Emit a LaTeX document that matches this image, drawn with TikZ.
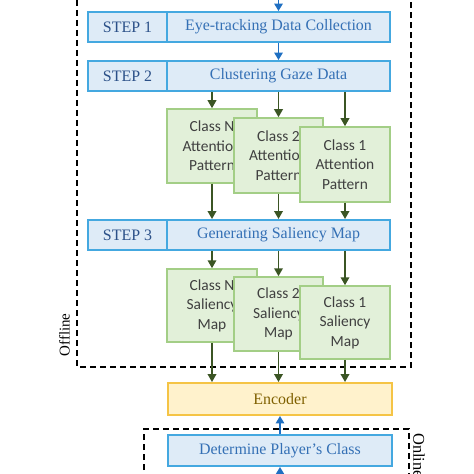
\documentclass[tikz,border=0pt]{standalone}
\usepackage{fontspec}
\setmainfont{Liberation Serif}
\newfontfamily\calib{Carlito}
\usetikzlibrary{arrows.meta}
\definecolor{bbord}{HTML}{44A8E0}
\definecolor{bfill}{HTML}{DEEBF7}
\definecolor{bstep}{HTML}{2B5088}
\definecolor{btext}{HTML}{3470B5}
\definecolor{barr}{HTML}{1F6FC2}
\definecolor{gbord}{HTML}{A3CE86}
\definecolor{gfill}{HTML}{E2F0D9}
\definecolor{gtext}{HTML}{404040}
\definecolor{garr}{HTML}{3B5524}
\definecolor{ybord}{HTML}{F5C445}
\definecolor{yfill}{HTML}{FFF2CC}
\definecolor{ytext}{HTML}{7F6000}
\tikzset{
  bluebox/.style={draw=bbord, fill=bfill, line width=1.9bp, inner sep=0pt, minimum height=30bp,
    font=\fontsize{16}{19}\selectfont, text=btext},
  steplabel/.style={bluebox, minimum width=79bp, text=bstep},
  steptext/.style={bluebox, minimum width=223bp},
  greenbox/.style={draw=gbord, fill=gfill, line width=1.5bp, inner sep=0pt, minimum width=90bp,
    minimum height=74bp, font=\calib\fontsize{15.5}{19.5}\selectfont, text=gtext, align=center},
  encbox/.style={draw=ybord, fill=yfill, line width=1.9bp, inner sep=0pt, minimum width=224bp,
    minimum height=32bp, font=\fontsize{16}{19}\selectfont, text=ytext},
  garrow/.style={draw=garr, line width=1.8bp, -{Triangle[length=8bp,width=8.5bp]}},
  barrow/.style={draw=barr, line width=1.6bp, -{Triangle[length=7.5bp,width=8.5bp]}},
  dashbox/.style={draw=black, line width=1.6bp, dash pattern=on 6bp off 4bp},
  sidelabel/.style={font=\fontsize{15}{18}\selectfont, text=black, inner sep=0pt}
}
\begin{document}
\begin{tikzpicture}[x=1bp,y=-1bp]
\path[use as bounding box, clip] (0,0) rectangle (474,474);
\fill[white] (0,0) rectangle (474,474);

% offline dashed frame
\draw[dashbox] (77,-20) -- (77,367) -- (411,367) -- (411,-20);
\node[sidelabel, rotate=90] (offline) at (64.5,335) {Offline};

% online dashed frame
\draw[dashbox] (144,500) -- (144,429) -- (409,429) -- (409,500);
\node[sidelabel, font=\fontsize{16.5}{19}\selectfont, rotate=-90, anchor=west] (online) at (419,433) {Online};

% steps
\node[steplabel] (s1l) at (127.5,27) {STEP 1};
\node[steptext] (s1r) at (278.5,27) {Eye-tracking Data Collection};
\node[steplabel] (s2l) at (127.5,76) {STEP 2};
\node[steptext] (s2r) at (278.5,76) {Clustering Gaze Data};
\node[steplabel] (s3l) at (127.5,235) {STEP 3};
\node[steptext] (s3r) at (278.5,235) {Generating Saliency Map};

\coordinate (topin) at (278.5,-8);
\draw[barrow] (topin) -- (s1r.north);
\draw[barrow] (s1r.south) -- (s2r.north);

% attention patterns
\node[greenbox] (an) at (212,146) {Class N\\Attention\\Pattern};
\node[greenbox, minimum height=75bp, minimum width=89bp] (a2) at (278.5,155.5) {Class 2\\Attention\\Pattern};
\node[greenbox, minimum height=75bp] (a1) at (345,164.5) {Class 1\\Attention\\Pattern};

\foreach \b in {an,a2,a1}{
  \draw[garrow] (\b.north |- s2r.south) -- (\b.north);
  \draw[garrow] (\b.south) -- (\b.south |- s3r.north);
}

% saliency maps
\node[greenbox, minimum height=73bp] (sn) at (212,305.5) {Class N\\Saliency\\Map};
\node[greenbox, minimum width=89bp] (sm2) at (278.5,314) {Class 2\\Saliency\\Map};
\node[greenbox, minimum height=73bp] (sm1) at (345,322.5) {Class 1\\Saliency\\Map};

% encoder
\node[encbox] (enc) at (280,399) {Encoder};

\foreach \b in {sn,sm2,sm1}{
  \draw[garrow] (\b.north |- s3r.south) -- (\b.north);
  \draw[garrow] (\b.south) -- (\b.south |- enc.north);
}

% online part
\node[bluebox, minimum width=224bp, minimum height=31bp] (det) at (280,450.5) {Determine Player's Class};
\draw[barrow] (det.north) -- (enc.south);
\coordinate (botin) at (280,485);
\draw[barrow] (botin) -- (det.south);
\end{tikzpicture}
\end{document}
